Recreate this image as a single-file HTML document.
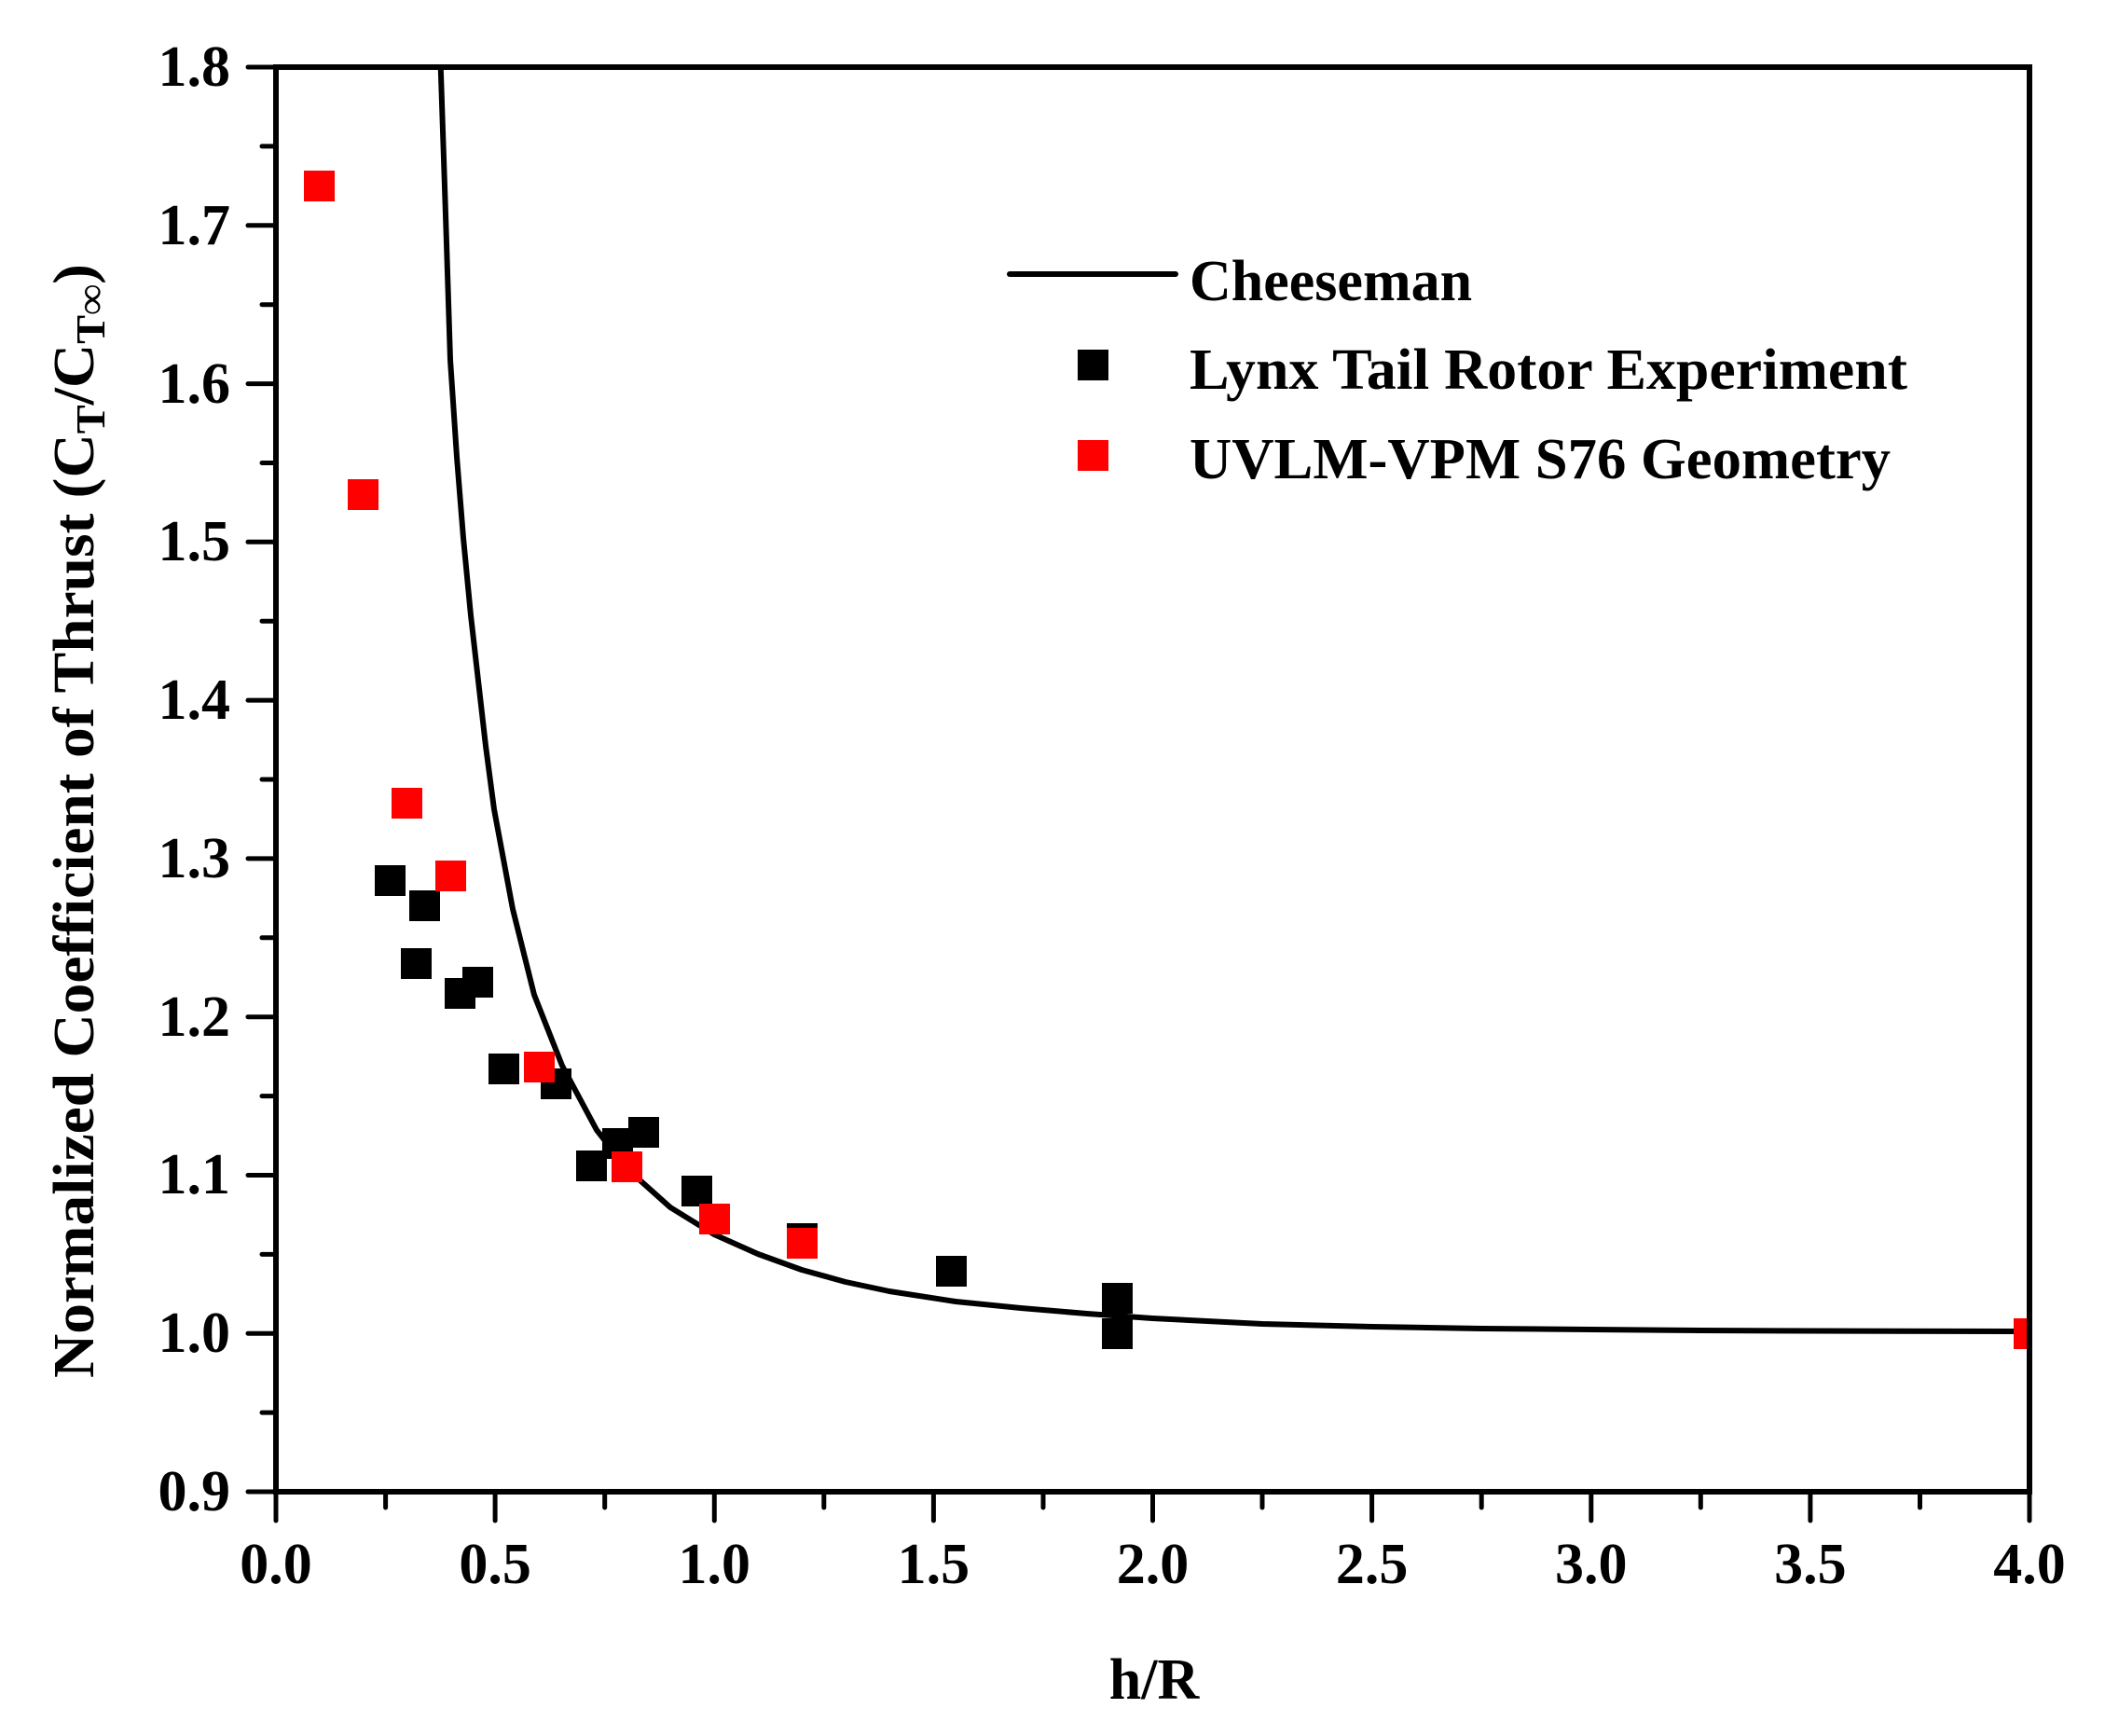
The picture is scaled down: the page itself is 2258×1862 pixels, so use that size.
<!DOCTYPE html>
<html><head><meta charset="utf-8"><style>
html,body{margin:0;padding:0;background:#fff;}
svg{display:block;}
text{font-family:"Liberation Serif",serif;font-weight:bold;fill:#000;}
</style></head><body>
<svg width="2258" height="1862" viewBox="0 0 2258 1862" xmlns="http://www.w3.org/2000/svg">
<defs><clipPath id="c"><rect x="296" y="72" width="1881" height="1528"/></clipPath></defs>
<rect width="2258" height="1862" fill="#fff"/>
<g clip-path="url(#c)">
<polyline fill="none" stroke="#000" stroke-width="6" stroke-linejoin="round" points="472.3,60 473,80 478,230 483,386 490,490 497,577 505,660 513,730 521,800 530,868 550,975 573,1067 603,1143 640,1212 672,1253 719,1295 766,1324 813,1345 860,1362 907,1375 954,1385 1025,1396 1095,1403 1166,1409 1236,1414 1354,1420 1472,1423 1589,1425 1707,1426 1824,1427 1942,1427.5 2177,1428"/>
<g fill="#000">
<rect x="402" y="928" width="33" height="33"/>
<rect x="439" y="955" width="33" height="33"/>
<rect x="430" y="1017" width="33" height="33"/>
<rect x="477" y="1049" width="33" height="33"/>
<rect x="496" y="1037" width="33" height="33"/>
<rect x="524" y="1130" width="33" height="33"/>
<rect x="580" y="1146" width="33" height="33"/>
<rect x="618" y="1234" width="33" height="33"/>
<rect x="646" y="1210" width="33" height="33"/>
<rect x="674" y="1198" width="33" height="33"/>
<rect x="731" y="1261" width="33" height="33"/>
<rect x="844" y="1312" width="33" height="33"/>
<rect x="1004" y="1347" width="33" height="33"/>
<rect x="1182" y="1376" width="33" height="33"/>
<rect x="1182" y="1414" width="33" height="33"/>
</g>
<g fill="#f00">
<rect x="326" y="183" width="33" height="33"/>
<rect x="373" y="514" width="33" height="33"/>
<rect x="420" y="845" width="33" height="33"/>
<rect x="467" y="923" width="33" height="33"/>
<rect x="562" y="1128" width="33" height="33"/>
<rect x="656" y="1235" width="33" height="33"/>
<rect x="750" y="1291" width="33" height="33"/>
<rect x="844" y="1317" width="33" height="33"/>
<rect x="2160" y="1414" width="33" height="33"/>
</g>
</g>
<rect x="296" y="72" width="1881" height="1528" fill="none" stroke="#000" stroke-width="6"/>
<g stroke="#000" stroke-width="5" stroke-linecap="round">
<line x1="296" y1="1600" x2="296" y2="1631"/><line x1="531.1" y1="1600" x2="531.1" y2="1631"/><line x1="766.3" y1="1600" x2="766.3" y2="1631"/><line x1="1001.4" y1="1600" x2="1001.4" y2="1631"/><line x1="1236.5" y1="1600" x2="1236.5" y2="1631"/><line x1="1471.6" y1="1600" x2="1471.6" y2="1631"/><line x1="1706.8" y1="1600" x2="1706.8" y2="1631"/><line x1="1941.9" y1="1600" x2="1941.9" y2="1631"/><line x1="2177" y1="1600" x2="2177" y2="1631"/>
<line x1="413.6" y1="1600" x2="413.6" y2="1617"/><line x1="648.7" y1="1600" x2="648.7" y2="1617"/><line x1="883.8" y1="1600" x2="883.8" y2="1617"/><line x1="1119" y1="1600" x2="1119" y2="1617"/><line x1="1354" y1="1600" x2="1354" y2="1617"/><line x1="1589.2" y1="1600" x2="1589.2" y2="1617"/><line x1="1824.3" y1="1600" x2="1824.3" y2="1617"/><line x1="2059.5" y1="1600" x2="2059.5" y2="1617"/>
<line x1="296" y1="72" x2="266" y2="72"/><line x1="296" y1="241.8" x2="266" y2="241.8"/><line x1="296" y1="411.6" x2="266" y2="411.6"/><line x1="296" y1="581.3" x2="266" y2="581.3"/><line x1="296" y1="751.1" x2="266" y2="751.1"/><line x1="296" y1="920.9" x2="266" y2="920.9"/><line x1="296" y1="1090.7" x2="266" y2="1090.7"/><line x1="296" y1="1260.5" x2="266" y2="1260.5"/><line x1="296" y1="1430.2" x2="266" y2="1430.2"/><line x1="296" y1="1600" x2="266" y2="1600"/>
<line x1="296" y1="156.9" x2="281" y2="156.9"/><line x1="296" y1="326.7" x2="281" y2="326.7"/><line x1="296" y1="496.5" x2="281" y2="496.5"/><line x1="296" y1="666.2" x2="281" y2="666.2"/><line x1="296" y1="836" x2="281" y2="836"/><line x1="296" y1="1005.8" x2="281" y2="1005.8"/><line x1="296" y1="1175.6" x2="281" y2="1175.6"/><line x1="296" y1="1345.4" x2="281" y2="1345.4"/><line x1="296" y1="1515.1" x2="281" y2="1515.1"/>
</g>
<g font-size="62" text-anchor="middle">
<text x="296" y="1698">0.0</text><text x="531.1" y="1698">0.5</text><text x="766.3" y="1698">1.0</text><text x="1001.4" y="1698">1.5</text><text x="1236.5" y="1698">2.0</text><text x="1471.6" y="1698">2.5</text><text x="1706.8" y="1698">3.0</text><text x="1941.9" y="1698">3.5</text><text x="2177" y="1698">4.0</text>
</g>
<g font-size="62" text-anchor="end">
<text x="247" y="92">1.8</text><text x="247" y="262">1.7</text><text x="247" y="432">1.6</text><text x="247" y="601">1.5</text><text x="247" y="771">1.4</text><text x="247" y="941">1.3</text><text x="247" y="1111">1.2</text><text x="247" y="1280">1.1</text><text x="247" y="1450">1.0</text><text x="247" y="1620">0.9</text>
</g>
<text x="1238" y="1822" font-size="62" text-anchor="middle">h/R</text>
<text transform="translate(100,1478) rotate(-90)" font-size="62" textLength="1195" lengthAdjust="spacingAndGlyphs">Normalized Coefficient of Thrust (C<tspan font-size="44" dy="12">T</tspan><tspan dy="-12">/C</tspan><tspan font-size="44" dy="12">T∞</tspan><tspan dy="-12">)</tspan></text>
<line x1="1083" y1="294" x2="1261" y2="294" stroke="#000" stroke-width="6" stroke-linecap="round"/>
<text x="1276" y="322" font-size="62">Cheeseman</text>
<rect x="1156" y="375" width="33" height="33" fill="#000"/>
<text x="1276" y="417" font-size="62" textLength="770" lengthAdjust="spacingAndGlyphs">Lynx Tail Rotor Experiment</text>
<rect x="1156" y="472" width="33" height="33" fill="#f00"/>
<text x="1276" y="513" font-size="62" textLength="752" lengthAdjust="spacingAndGlyphs">UVLM-VPM S76 Geometry</text>
</svg>
</body></html>
